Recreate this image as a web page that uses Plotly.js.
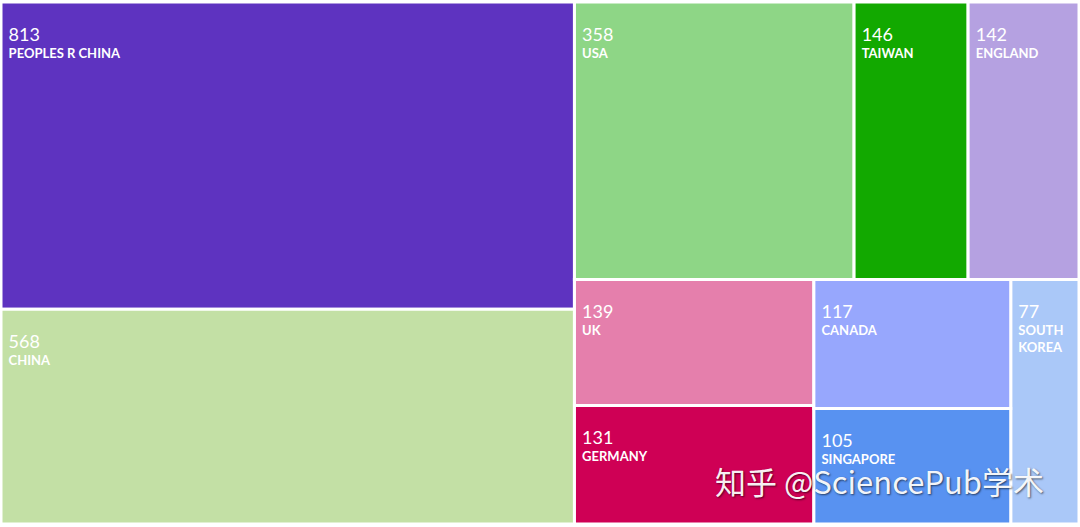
<!DOCTYPE html>
<html><head><meta charset="utf-8">
<script src="https://cdn.plot.ly/plotly-3.0.1.min.js"></script>
<style>html,body{margin:0;padding:0;background:#fff}#chart{width:1080px;height:527px}</style>
</head><body><div id="chart"></div>
<script>
// Leaf data
const countries = ["PEOPLES R CHINA","CHINA","USA","TAIWAN","ENGLAND","UK","GERMANY","CANADA","SINGAPORE","SOUTH<br>KOREA"];
const counts = [813,568,358,146,142,139,131,117,105,77];
const colors = ["#5e33c0","#c3e0a5","#8ed686","#12a900","#b5a1e1","#e57fac","#cf0055","#97a7fd","#5892f1","#aac8f8"];
// Layout groups (which invisible block each country sits in)
const groupOf = ["left","left","rightTop","rightTop","rightTop","col1","col1","col2","col2","rightBottom"];
const groupIds = ["root","left","right","rightTop","rightBottom","col1","col2"];
const groupParents = ["","root","root","right","right","rightBottom","rightBottom"];
const watermark = "知乎 @SciencePub学术";

const pad = "<span style='font-size:18px'>&nbsp;</span>";
const ids = groupIds.concat(countries.map((c, i) => "c" + i));
const parents = groupParents.concat(groupOf);
const labels = groupIds.map(() => "").concat(countries);
const values = groupIds.map(() => 0).concat(counts);
const markerColors = groupIds.map(() => "#ffffff").concat(colors);
const texts = groupIds.map(() => "").concat(countries.map((c, i) =>
  "<span style='font-size:19px'>&nbsp;</span><br><span style='font-size:18px'>&nbsp;" + counts[i] + "</span><br>" +
  c.split("<br>").map(p => pad + "<b>" + p + "</b>").join("<br>")));

const trace = {
  type: "treemap",
  ids: ids,
  labels: labels,
  parents: parents,
  values: values,
  text: texts,
  branchvalues: "remainder",
  sort: false,
  marker: {colors: markerColors, line: {color: "#ffffff", width: 3}, pad: {t: 0, l: 0, r: 0, b: 0}},
  tiling: {packing: "slice-dice", pad: 0},
  textposition: "top left",
  texttemplate: "%{text}",
  textfont: {family: "Lato, Noto Sans, sans-serif", size: 13, color: "#ffffff"},
  hoverinfo: "none",
  pathbar: {visible: false}
};
const layout = {
  width: 1080, height: 527,
  margin: {l: 1, r: 1, t: 2, b: 3},
  paper_bgcolor: "#ffffff",
  annotations: [{
    text: watermark, xref: "paper", yref: "paper", x: 0.969, y: 0.036,
    xanchor: "right", yanchor: "bottom", showarrow: false,
    font: {family: "Noto Sans CJK SC, sans-serif", size: 31, color: "rgba(255,255,255,0.95)", shadow: "1px 1px 2px rgba(0,0,0,0.6)"}
  }]
};
Plotly.newPlot("chart", [trace], layout, {displayModeBar: false, staticPlot: true});
</script></body></html>
